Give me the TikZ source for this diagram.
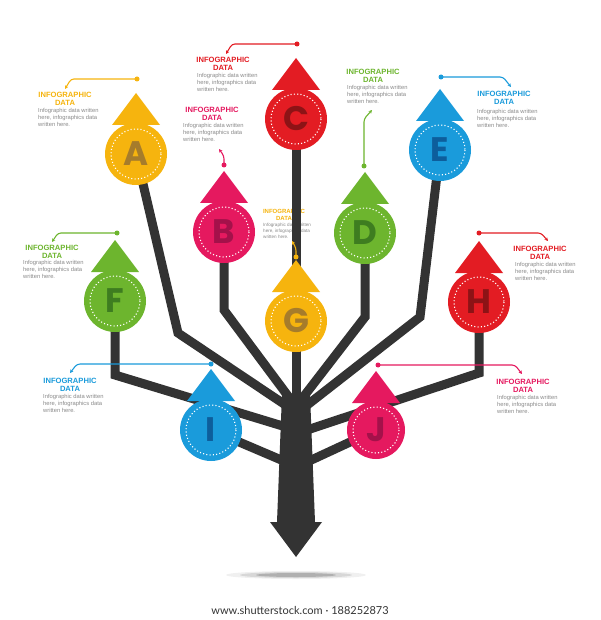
\documentclass[tikz,border=0pt]{standalone}
\usepackage{fontspec}
\setmainfont{Liberation Sans}
\newfontfamily\letterfont{Poppins}
\newfontfamily\footfont{Lato}
\usetikzlibrary{arrows.meta,calc}
\definecolor{yel}{HTML}{F6B40E}
\definecolor{yelD}{HTML}{A67C2B}
\definecolor{pnk}{HTML}{E5195F}
\definecolor{pnkD}{HTML}{A4114A}
\definecolor{rd}{HTML}{E31C23}
\definecolor{rdD}{HTML}{8D1316}
\definecolor{grn}{HTML}{6DB52E}
\definecolor{grnD}{HTML}{3E7D20}
\definecolor{blu}{HTML}{1A9BDB}
\definecolor{bluD}{HTML}{0D5E9C}
\definecolor{tree}{HTML}{333333}
\definecolor{bodygray}{HTML}{8A8A8A}
\tikzset{
  branch/.style={draw=tree, line width=9pt, line join=miter},
  ball/.style={circle, minimum size=62pt, inner sep=0pt,
    font=\letterfont\bfseries\fontsize{34}{34}\selectfont},
  innerdots/.style={draw=white, line width=1.1pt, dash pattern=on 1.1pt off 2.2pt},
  ttl/.style={font=\bfseries\fontsize{7.6}{8.4}\selectfont, align=center, inner sep=0pt},
  body/.style={font=\fontsize{5.8}{7}\selectfont, align=left, inner sep=0pt, text=bodygray, anchor=north west},
  ttlS/.style={font=\bfseries\fontsize{6}{6.6}\selectfont, align=center, inner sep=0pt},
  bodyS/.style={font=\fontsize{4.6}{6.2}\selectfont, align=left, inner sep=0pt, text=bodygray, anchor=north west},
  dotnode/.style={circle, inner sep=0pt, minimum size=5pt},
  conn/.style={line width=1.1pt, rounded corners=3pt, -{Stealth[length=3.5pt,width=3.5pt]}},
}
\newcommand\balloon[7]{%
  \fill[#4] (#2,#3-#7-30) -- (#2-24,#3-#7+2) -- (#2+24,#3-#7+2) -- cycle;
  \node[ball, minimum size=2*#7, fill=#4, text=#5] (#1) at (#2,#3) {#6};
  \draw[innerdots] (#1.center) circle (#7-6);
}
\newcommand\bodytext{Infographic data written\\here, infographics data\\written here.}
\begin{document}
\begin{tikzpicture}[x=1pt,y=-1pt]
\path[use as bounding box] (0,0) rectangle (600,620);
\fill[white] (0,0) rectangle (600,620);

% ---- labels
\node[ttl, text=yel] (At) at (65,99) {INFOGRAPHIC\\DATA};
\node[body] (Ab) at (38,108) {\bodytext};
\node[ttl, text=pnk] (Bt) at (212,114) {INFOGRAPHIC\\DATA};
\node[body] (Bb) at (183,123) {\bodytext};
\node[ttl, text=rd] (Ct) at (223,64) {INFOGRAPHIC\\DATA};
\node[body] (Cb) at (197,73) {\bodytext};
\node[ttl, text=grn] (Dt) at (373,76) {INFOGRAPHIC\\DATA};
\node[body] (Db) at (347,85) {\bodytext};
\node[ttl, text=blu] (Et) at (504,98) {INFOGRAPHIC\\DATA};
\node[body] (Eb) at (477,109) {\bodytext};
\node[ttl, text=grn] (Ft) at (52,252) {INFOGRAPHIC\\DATA};
\node[body] (Fb) at (23,260) {\bodytext};
\node[ttlS, text=yel] (Gt) at (284,215) {INFOGRAPHIC\\DATA};
\node[bodyS] (Gb) at (263,223) {\bodytext};
\node[ttl, text=rd] (Ht) at (540,253) {INFOGRAPHIC\\DATA};
\node[body] (Hb) at (515,262) {\bodytext};
\node[ttl, text=blu] (It) at (70,385) {INFOGRAPHIC\\DATA};
\node[body] (Ib) at (43,394) {\bodytext};
\node[ttl, text=pnk] (Jt) at (523,386) {INFOGRAPHIC\\DATA};
\node[body] (Jb) at (497,395) {\bodytext};

% ---- shadow
\fill[black, opacity=0.06] (296,575) ellipse (70 and 4);
\fill[black, opacity=0.10] (296,575) ellipse (56 and 3);
\fill[black, opacity=0.18] (296,575) ellipse (40 and 2);

% ---- trunk
\coordinate (tA) at (287,406);
\coordinate (tB) at (291,400);
\coordinate (tC) at (296,400);
\coordinate (tD) at (301,400);
\coordinate (tE) at (306,406);
\coordinate (tF) at (286,427);
\coordinate (tH) at (307,430);
\coordinate (tI) at (286,462);
\coordinate (tJ) at (307,462);
\fill[tree] (282,394) -- (310,394) -- (315,522) -- (322,522) -- (296,557) -- (270,522) -- (277,522) -- cycle;

% ---- branches
\draw[branch] (136,154) -- (178,333) -- (tA);
\draw[branch] (224,232) -- (224,310) -- (tB);
\draw[branch] (296,119) -- (tC);
\draw[branch] (365,233) -- (365,317) -- (tD);
\draw[branch] (440,150) -- (420,317) -- (tE);
\draw[branch] (115,301) -- (115,375) -- (tF);
\draw[branch] (479,302) -- (479,373) -- (tH);
\draw[branch] (211,430) -- (tI);
\draw[branch] (376,430) -- (tJ);

% ---- balloons
\balloon{A}{136}{154}{yel}{yelD}{A}{31}
\balloon{B}{224}{232}{pnk}{pnkD}{B}{31}
\balloon{C}{296}{119}{rd}{rdD}{C}{31}
\balloon{D}{365}{233}{grn}{grnD}{D}{31}
\balloon{E}{440}{150}{blu}{bluD}{E}{31}
\balloon{F}{115}{301}{grn}{grnD}{F}{31}
\balloon{G}{296}{321}{yel}{yelD}{G}{31}
\balloon{H}{479}{302}{rd}{rdD}{H}{31}
\balloon{I}{211}{430}{blu}{bluD}{I}{31}
\balloon{J}{376}{430}{pnk}{pnkD}{J}{29}

% ---- connector end points
\coordinate (Aend) at (65,89);
\coordinate (Bend) at (219,149);
\coordinate (Cend) at (226,54);
\coordinate (Dend) at (372,110);
\coordinate (Eend) at (511,87);
\coordinate (Fend) at (52,242);
\coordinate (Gend) at (292,241);
\coordinate (Hend) at (548,241);
\coordinate (Iend) at (70,373);
\coordinate (Jend) at (522,374);

% ---- connectors
\draw[conn, draw=yel] (137,79) -- (71,79) -- (Aend);
\draw[conn, draw=pnk] (224,165) -- (224,156) -- (Bend);
\draw[conn, draw=rd] (297,44) -- (232,44) -- (Cend);
\draw[conn, draw=grn] (364,166) -- (364,119) -- (Dend);
\draw[conn, draw=blu] (441,77) -- (503,77) -- (Eend);
\draw[conn, draw=grn] (117,233) -- (58,233) -- (Fend);
\draw[conn, draw=yel] (296,257) -- (296,248) -- (Gend);
\draw[conn, draw=rd] (479,233) -- (541,233) -- (Hend);
\draw[conn, draw=blu] (211,364) -- (77,364) -- (Iend);
\draw[conn, draw=pnk] (378,365) -- (515,365) -- (Jend);

\node[dotnode, fill=yel] (Adot) at (137,79) {};
\node[dotnode, fill=pnk] (Bdot) at (224,165) {};
\node[dotnode, fill=rd] (Cdot) at (297,44) {};
\node[dotnode, fill=grn] (Ddot) at (364,166) {};
\node[dotnode, fill=blu] (Edot) at (441,77) {};
\node[dotnode, fill=grn] (Fdot) at (117,233) {};
\node[dotnode, fill=yel] (Gdot) at (296,257) {};
\node[dotnode, fill=rd] (Hdot) at (479,233) {};
\node[dotnode, fill=blu] (Idot) at (211,364) {};
\node[dotnode, fill=pnk] (Jdot) at (378,365) {};

% ---- footer
\node[font=\footfont\fontsize{11}{12}\selectfont, text=black!80] (foot) at (300,610) {www.shutterstock.com · 188252873};
\end{tikzpicture}
\end{document}
